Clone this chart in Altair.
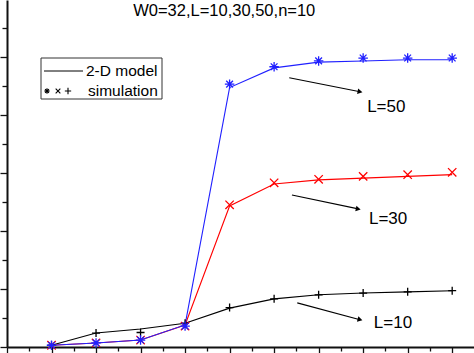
import math
import altair as alt
import pandas as pd

# ---- data ----
x_vals = [1, 2, 3, 4, 5, 6, 7, 8, 9, 10]
l10_model = [0.03, 0.24, 0.31, 0.41, 0.67, 0.83, 0.90, 0.93, 0.95, 0.97]
l10_sim = [0.03, 0.24, 0.25, 0.41, 0.68, 0.83, 0.90, 0.93, 0.95, 0.97]
l30_model = [0.03, 0.07, 0.12, 0.38, 2.43, 2.81, 2.88, 2.91, 2.94, 2.97]
l30_sim = [0.03, 0.07, 0.12, 0.36, 2.45, 2.83, 2.89, 2.94, 2.97, 3.01]
l50_model = [0.03, 0.07, 0.12, 0.38, 4.47, 4.81, 4.91, 4.93, 4.95, 4.95]
l50_sim = [0.03, 0.07, 0.12, 0.36, 4.53, 4.83, 4.93, 4.98, 4.98, 4.98]

title_text = "W0=32,L=10,30,50,n=10"
ann_labels = ["L=50", "L=30", "L=10"]
ann_start_x = [6.34, 6.40, 6.52]
ann_start_y = [4.64, 2.62, 0.76]
ann_end_x = [7.93, 7.89, 7.93]
ann_end_y = [4.40, 2.38, 0.47]
ann_text_x = [8.52, 8.56, 8.67]
ann_text_y = [4.14, 2.21, 0.41]

legend_labels = ["2-D model", "simulation"]

# ---- geometry / styles ----
W, H = 467, 347
X_DOM = [0, 10.49]
Y_DOM = [0, 5.98]
FONT = "Liberation Sans"

ASTER = "M0,-1L0,1M-1,0L1,0M-0.71,-0.71L0.71,0.71M-0.71,0.71L0.71,-0.71"
XMARK = "M-1,-1L1,1M-1,1L1,-1"
PLUS = "M-1,0L1,0M0,-1L0,1"

xs = alt.Scale(domain=X_DOM, nice=False, zero=False)
ys = alt.Scale(domain=Y_DOM, nice=False, zero=False)

x_axis = alt.Axis(
    values=[i * 0.5 for i in range(0, 21)],
    labels=False, grid=False, title=None,
    domainColor="#111", domainWidth=2,
    tickColor="#111", tickWidth=1.3,
    tickSize={"condition": {"test": "datum.value % 1 === 0", "value": 6}, "value": 4},
)
y_axis = alt.Axis(
    values=[i * 0.5 for i in range(0, 12)],
    labels=False, grid=False, title=None,
    domainColor="#111", domainWidth=2,
    tickColor="#111", tickWidth=1.3,
    tickSize={"condition": {"test": "datum.value % 1 === 0", "value": 7}, "value": 5},
)

def X(field="x"):
    return alt.X(f"{field}:Q", scale=xs, axis=x_axis)

def Y(field="y"):
    return alt.Y(f"{field}:Q", scale=ys, axis=y_axis)

series = [
    ("L10", l10_model, l10_sim, "#000000", PLUS, 64),
    ("L30", l30_model, l30_sim, "#ff0000", XMARK, 70),
    ("L50", l50_model, l50_sim, "#2020ff", ASTER, 90),
]

layers = []
for name, model, sim, color, shape, size in series:
    dfm = pd.DataFrame({"x": x_vals, "y": model})
    layers.append(
        alt.Chart(dfm).mark_line(color=color, strokeWidth=1.1).encode(x=X(), y=Y())
    )
for name, model, sim, color, shape, size in series:
    dfs = pd.DataFrame({"x": x_vals, "y": sim})
    layers.append(
        alt.Chart(dfs).mark_point(shape=shape, filled=False, color=color,
                                  size=size, strokeWidth=1.3, opacity=1)
        .encode(x=X(), y=Y())
    )

# annotations: arrows + labels
ann = pd.DataFrame({
    "label": ann_labels,
    "x": ann_start_x, "y": ann_start_y,
    "x2": ann_end_x, "y2": ann_end_y,
    "tx": ann_text_x, "ty": ann_text_y,
})
px_x = W / (X_DOM[1] - X_DOM[0])
px_y = H / (Y_DOM[1] - Y_DOM[0])
ann["angle"] = [
    math.degrees(math.atan2(-(y2 - y1) * px_y, (x2 - x1) * px_x))
    for x1, y1, x2, y2 in zip(ann["x"], ann["y"], ann["x2"], ann["y2"])
]
layers.append(
    alt.Chart(ann).mark_rule(color="black", strokeWidth=1.1).encode(
        x=X(), y=Y(), x2="x2:Q", y2="y2:Q")
)
layers.append(
    alt.Chart(ann).mark_point(shape="triangle-right", filled=True, color="black",
                              size=32, opacity=1).encode(
        x=alt.X("x2:Q", scale=xs, axis=x_axis), y=alt.Y("y2:Q", scale=ys, axis=y_axis),
        angle=alt.Angle("angle:Q", scale=None))
)
layers.append(
    alt.Chart(ann).mark_text(font=FONT, fontSize=17, color="black",
                             align="center", baseline="middle").encode(
        x=alt.X("tx:Q", scale=xs, axis=x_axis), y=alt.Y("ty:Q", scale=ys, axis=y_axis),
        text="label:N")
)

# title inside plot
tdf = pd.DataFrame({"x": [4.88], "y": [5.79], "t": [title_text]})
layers.append(
    alt.Chart(tdf).mark_text(font=FONT, fontSize=16.5, color="black",
                             align="center", baseline="middle").encode(
        x=X(), y=Y(), text="t:N")
)

# custom legend box
one = pd.DataFrame({"a": [0]})
layers.append(
    alt.Chart(one).mark_rect(fill="white", stroke="#333", strokeWidth=1).encode(
        x=alt.value(34), x2=alt.value(155), y=alt.value(58), y2=alt.value(99))
)
layers.append(
    alt.Chart(one).mark_rule(color="black", strokeWidth=1).encode(
        x=alt.value(37), x2=alt.value(76), y=alt.value(71))
)
layers.append(
    alt.Chart(one).mark_text(font=FONT, fontSize=15.5, align="left", baseline="middle",
                             color="black", text=legend_labels[0]).encode(
        x=alt.value(79), y=alt.value(71))
)
layers.append(
    alt.Chart(one).mark_text(font=FONT, fontSize=15.5, align="left", baseline="middle",
                             color="black", text=legend_labels[1]).encode(
        x=alt.value(81), y=alt.value(91))
)
for sx, shp, sz in [(40, ASTER, 30), (51, XMARK, 22), (61, PLUS, 40)]:
    layers.append(
        alt.Chart(one).mark_point(shape=shp, filled=False, color="black", size=sz,
                                  strokeWidth=1.1, opacity=1).encode(
            x=alt.value(sx), y=alt.value(91))
    )

chart = alt.layer(*layers).properties(
    width=W, height=H,
    padding={"left": 7, "top": 0, "right": 0, "bottom": 6},
    autosize=alt.AutoSizeParams(type="none"),
    background="white",
).configure_view(stroke=None)

chart.save("out.html", embed_options={"renderer": "svg", "actions": False})
